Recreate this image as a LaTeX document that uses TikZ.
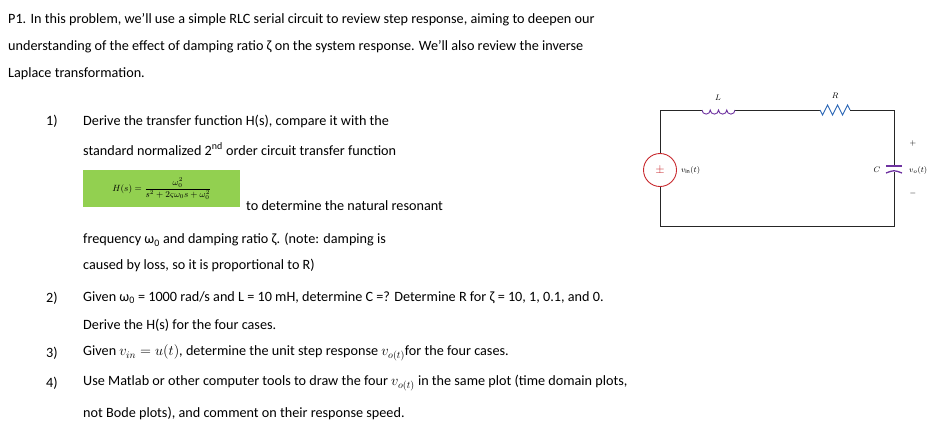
\documentclass[tikz,border=0pt]{standalone}
\usepackage{fontspec}
\setmainfont{Carlito}
\usetikzlibrary{calc}
\definecolor{boxgreen}{RGB}{146,208,80}
\definecolor{srcred}{RGB}{200,40,45}
\definecolor{indpurple}{RGB}{110,50,160}
\definecolor{resblue}{RGB}{40,100,180}
\begin{document}
\begin{tikzpicture}[x=1pt,y=-1pt,
  txt/.style={anchor=west,inner sep=0pt,font=\fontsize{14.2}{16}\selectfont},
  lbl/.style={inner sep=1pt,font=\fontsize{8}{9}\selectfont},
  wire/.style={line width=0.9pt,black!85}]
\useasboundingbox (0,0) rectangle (949,437);
\node[txt] (l1) at (8,20) {P1. In this problem, we’ll use a simple RLC serial circuit to review step response, aiming to deepen our};
\node[txt] (l2) at (8,47) {understanding of the effect of damping ratio ζ on the system response. We’ll also review the inverse};
\node[txt] (l3) at (8,74) {Laplace transformation.};
\node[txt] (n1) at (46,121) {1)};
\node[txt] (a1) at (83,121) {Derive the transfer function H(s), compare it with the};
\node[txt] (a2) at (83,149) {standard normalized 2\textsuperscript{nd} order circuit transfer function};
\node[fill=boxgreen,anchor=north west,minimum width=157,minimum height=37,inner sep=0pt] (hb) at (83,170) {};
\node[inner sep=0pt,font=\fontsize{9}{10}\selectfont] (hf) at (hb.center) {$\displaystyle H(s)=\frac{\omega_0^2}{s^2+2\varsigma\omega_0 s+\omega_0^2}$};
\node[txt] (a3) at (246,206) {to determine the natural resonant};
\node[txt] (a4) at (83,240) {frequency ω\textsubscript{0} and damping ratio ζ. (note: damping is};
\node[txt] (a5) at (83,265) {caused by loss, so it is proportional to R)};
\node[txt] (n2) at (46,298) {2)};
\node[txt] (b1) at (83,298) {Given ω\textsubscript{0} = 1000 rad/s and L = 10 mH, determine C =? Determine R for ζ = 10, 1, 0.1, and 0.};
\node[txt] (b2) at (83,325) {Derive the H(s) for the four cases.};
\node[txt] (n3) at (46,353) {3)};
\node[txt] (c1) at (83,353) {Given $v_{in}=u(t)$, determine the unit step response $v_{o(t)}$for the four cases.};
\node[txt] (n4) at (46,383) {4)};
\node[txt] (d1) at (83,383) {Use Matlab or other computer tools to draw the four $v_{o(t)}$ in the same plot (time domain plots,};
\node[txt] (d2) at (83,413) {not Bode plots), and comment on their response speed.};
% circuit
\coordinate (tl) at (660,110);
\coordinate (tr) at (894,110);
\coordinate (br) at (894,226);
\coordinate (bl) at (660,226);
\coordinate (i1) at (702,110);
\coordinate (i2) at (735,110);
\coordinate (r1) at (820,110);
\coordinate (r2) at (850,110);
\coordinate (c1t) at (894,167);
\coordinate (c1b) at (894,172);
\node[circle,draw=srcred,line width=0.9pt,minimum size=33,inner sep=0pt] (src) at (660,170) {};
\node[text=srcred,font=\fontsize{12}{12}\selectfont,inner sep=0pt] (pm) at (660,170) {$\pm$};
\draw[wire] (src.north) -- (tl) -- (i1);
\draw[wire] (i2) -- (r1);
\draw[wire] (r2) -- (tr) -- (c1t);
\draw[wire] (c1b) -- (br) -- (bl) -- (src.south);
\draw[indpurple,line width=0.9pt] (i1) \foreach \k in {0,1,2,3}{ arc[start angle=180,end angle=0,radius=4.125] } ;
\draw[resblue,line width=0.9pt] (r1) -- ++(2.5,5) -- ++(5,-10) -- ++(5,10) -- ++(5,-10) -- ++(5,10) -- ++(5,-10) -- (r2);
\draw[indpurple,line width=1.3pt] (886,166) -- (902,166);
\draw[indpurple,line width=1.3pt] (886,173) .. controls (894,170) .. (902,173);
\node[lbl] (Ll) at (718,98) {$L$};
\node[lbl] (Rl) at (835,96) {$R$};
\node[lbl,anchor=west] (vin) at (680,170) {$v_{\mathrm{in}}(t)$};
\node[lbl] (Cl) at (877,170) {$C$};
\node[lbl,anchor=west] (vo) at (908,170) {$v_o(t)$};
\node[lbl] (plus) at (913,143) {$+$};
\node[lbl] (minus) at (913,193) {$-$};
\end{tikzpicture}
\end{document}
